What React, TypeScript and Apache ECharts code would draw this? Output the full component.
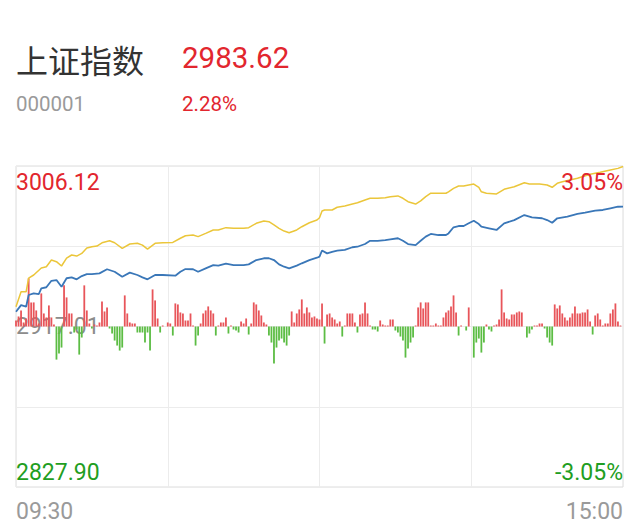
import React, { useEffect, useRef } from "react";
import * as echarts from "echarts";

// ---- header values
const indexName = "上证指数";
const indexCode = "000001";
const lastPrice = "2983.62";
const lastChange = "2.28%";

// ---- axis ranges and tick labels
const priceMax = 3006.12;
const priceMin = 2827.9;
const priceLabels = ["3006.12", "2917.01", "2827.90"];
const pctLabels = ["3.05%", "-3.05%"];
const timeLabels = ["09:30", "15:00"];
const totalMinutes = 240;

// ---- index line (blue): [minute, price]
const indexLine: [number, number][] = [
  [0, 2925.2], [2, 2928.9], [4, 2928.0], [5, 2934.5], [7, 2935.4], [9, 2935.0], [10, 2938.2], [12, 2938.8],
  [14, 2942.4], [16, 2942.8], [18, 2939.1], [20, 2943.8], [22, 2944.3], [24, 2943.2], [26, 2945.0], [28, 2946.1],
  [30, 2946.1], [33, 2946.5], [36, 2948.8], [39, 2947.4], [42, 2944.6], [45, 2946.9], [48, 2945.6], [50, 2944.3],
  [52, 2943.2], [55, 2945.6], [58, 2945.6], [63, 2945.2], [65, 2947.4], [67, 2948.9], [70, 2948.8], [72, 2947.4],
  [75, 2949.3], [78, 2951.1], [80, 2950.8], [83, 2951.9], [86, 2951.1], [90, 2951.1], [92, 2951.5], [95, 2953.9],
  [98, 2954.9], [100, 2954.9], [102, 2953.9], [104, 2951.5], [106, 2950.2], [108, 2949.3], [111, 2950.8], [113, 2952.1],
  [116, 2953.9], [119, 2955.2], [120, 2955.8], [121, 2959.2], [123, 2957.6], [125, 2958.5], [127, 2959.1], [130, 2959.5],
  [133, 2961.0], [135, 2961.3], [138, 2962.8], [140, 2964.6], [143, 2964.6], [146, 2965.0], [148, 2965.4], [151, 2966.0],
  [153, 2964.6], [155, 2962.8], [158, 2962.2], [160, 2964.6], [162, 2966.9], [164, 2968.4], [167, 2967.8], [170, 2967.8],
  [171, 2968.7], [173, 2972.1], [175, 2972.8], [177, 2972.8], [179, 2974.3], [181, 2975.7], [183, 2973.9], [184, 2972.4],
  [187, 2971.5], [190, 2970.6], [193, 2974.3], [197, 2976.1], [201, 2978.9], [204, 2977.6], [208, 2977.1], [210, 2976.1],
  [212, 2974.6], [214, 2977.1], [218, 2978.0], [222, 2979.5], [225, 2980.2], [229, 2981.3], [232, 2981.7], [235, 2982.6],
  [238, 2983.5], [240, 2983.62],
];

// ---- second line (yellow): [minute, price]
const avgLine: [number, number][] = [
  [0, 2928.0], [2, 2936.3], [4, 2936.3], [5, 2943.9], [7, 2945.6], [10, 2949.5], [12, 2950.2], [14, 2953.9],
  [16, 2953.0], [18, 2950.6], [20, 2955.0], [22, 2956.7], [24, 2956.1], [26, 2957.6], [28, 2960.6], [30, 2961.3],
  [32, 2961.7], [34, 2963.5], [37, 2964.6], [39, 2963.5], [42, 2960.4], [45, 2962.8], [48, 2963.2], [50, 2962.2],
  [52, 2960.0], [55, 2963.2], [58, 2963.5], [62, 2963.7], [65, 2966.0], [67, 2967.4], [70, 2967.8], [72, 2966.9],
  [75, 2968.7], [78, 2970.6], [80, 2970.6], [83, 2971.9], [86, 2971.5], [90, 2971.5], [92, 2971.9], [95, 2974.3],
  [98, 2975.6], [100, 2975.2], [102, 2973.4], [104, 2971.5], [106, 2970.0], [108, 2969.1], [111, 2970.6], [113, 2972.4],
  [116, 2974.6], [119, 2976.1], [120, 2977.4], [121, 2981.1], [122, 2981.7], [125, 2981.7], [127, 2983.2], [130, 2983.9],
  [133, 2985.0], [135, 2985.7], [138, 2987.2], [140, 2988.2], [143, 2988.2], [146, 2988.5], [148, 2989.1], [151, 2989.5],
  [153, 2988.2], [155, 2986.3], [158, 2985.0], [160, 2986.8], [162, 2989.1], [164, 2991.0], [167, 2991.0], [170, 2991.0],
  [171, 2991.8], [173, 2993.7], [175, 2995.0], [177, 2995.0], [179, 2995.6], [181, 2996.1], [183, 2994.3], [184, 2991.8],
  [186, 2991.0], [190, 2990.6], [193, 2993.2], [197, 2994.6], [201, 2996.8], [203, 2996.1], [207, 2996.1], [210, 2995.6],
  [212, 2994.3], [214, 2996.5], [216, 2997.4], [222, 2999.3], [227, 3001.5], [231, 3002.6], [235, 3003.9], [238, 3004.8],
  [240, 3005.8],
];

// ---- per-minute red/green bars (arbitrary units), minute 0..240
const diffBars: number[] = [
  6, 10, 16, 4, 8, 48, 24, 24, 16, 3,
  33, 13, 9, 21, 9, 2, -33, -27, -21, 41,
  29, 13, 13, -6, -3, -28, -11, 41, 16, 3,
  -2, 2, 1, 4, 25, 15, 19, -2, -7, -14,
  -19, -24, -21, 31, 13, 4, 3, 3, -6, -6,
  -6, -16, -6, -24, 37, 26, 8, -6, 1, 0,
  4, 3, -9, 23, 22, 14, 13, 6, 6, 13,
  1, -19, -9, 3, 13, 16, 20, 16, 13, -9,
  1, 4, 4, 9, -7, 1, -3, -4, -6, 5,
  3, 8, -8, 3, 24, 22, 16, 11, 4, 2,
  -9, -16, -37, -21, -14, -12, -16, -19, -9, 15,
  4, 13, 17, 27, 13, 19, 14, 9, 10, 8,
  7, 23, -17, 12, 13, 9, 7, 3, 5, -10,
  1, 13, 13, 13, 4, -6, 12, 13, 24, 13,
  1, -3, -3, -5, 6, 2, 1, 1, 7, 7,
  -4, -6, -10, -14, -31, -22, -16, -11, 1, 19,
  24, 18, 24, 24, 1, 1, 3, 1, 1, 9,
  14, 16, 20, 31, 14, -9, 1, 0, -4, 19,
  0, -31, -16, -12, -26, -16, 2, -3, -5, 1,
  2, 7, 37, 14, 8, 7, 12, 12, 14, 15,
  14, 0, -11, -7, -3, 1, 1, 3, 3, -2,
  -11, -16, -19, 22, 18, 21, 13, 9, 6, 9,
  13, 20, 13, 13, 14, 14, 17, 5, -8, 11,
  13, 7, 1, 3, 3, 13, 17, 23, 5, 1,
  0,
];

const RED = "#e2262e";
const GREEN = "#1f9e22";
const BAR_RED = "#e8555a";
const BAR_GREEN = "#5cbd44";
const NUM_FONT = "Roboto, 'Noto Sans', sans-serif";

export default function App() {
  const ref = useRef<HTMLDivElement>(null);

  useEffect(() => {
    const chart = echarts.init(ref.current!, null, { renderer: "svg" });
    const gl = 16, gr = 623, gt = 166, gb = 487;
    const mid = (gt + gb) / 2;

    const txt = (text: string, x: number, y: number, fill: string, size: number, align: string, family = NUM_FONT, z = 100) => ({
      type: "text",
      x,
      y,
      z,
      silent: true,
      style: { text, fill, fontSize: size, fontFamily: family, align, verticalAlign: "middle" },
    });

    chart.setOption({
      animation: false,
      backgroundColor: "#ffffff",
      grid: {
        left: gl,
        top: gt,
        right: 640 - gr,
        bottom: 526 - gb,
        show: true,
        borderColor: "#dcdcdc",
        borderWidth: 1,
      },
      xAxis: {
        type: "value",
        min: 0,
        max: totalMinutes,
        interval: 60,
        axisLine: { show: false },
        axisTick: { show: false },
        axisLabel: { show: false },
        splitLine: { show: true, lineStyle: { color: "#ececec", width: 1 } },
      },
      yAxis: [
        {
          type: "value",
          min: priceMin,
          max: priceMax,
          axisLine: { show: false },
          axisTick: { show: false },
          axisLabel: { show: false },
          splitLine: { show: false },
        },
        {
          type: "value",
          min: -160,
          max: 160,
          interval: 80,
          axisLine: { show: false },
          axisTick: { show: false },
          axisLabel: { show: false },
          splitLine: { show: true, lineStyle: { color: "#ececec", width: 1 } },
        },
      ],
      series: [
        {
          type: "bar",
          yAxisIndex: 1,
          barWidth: 1.8,
          z: 2,
          data: diffBars.map((v, i) => [i, v]),
          itemStyle: {
            color: (p: any) => (p.value[1] >= 0 ? BAR_RED : BAR_GREEN),
          },
        },
        {
          type: "line",
          yAxisIndex: 0,
          z: 3,
          showSymbol: false,
          data: avgLine,
          lineStyle: { color: "#ebc63a", width: 1.5 },
        },
        {
          type: "line",
          yAxisIndex: 0,
          z: 4,
          showSymbol: false,
          data: indexLine,
          lineStyle: { color: "#3a77b8", width: 1.8 },
        },
      ],
      graphic: [
        txt(indexName, 16, 59, "#333333", 32, "left", "'Noto Sans CJK SC', sans-serif"),
        txt(lastPrice, 182, 58, RED, 29.5, "left"),
        txt(indexCode, 16, 104, "#9a9a9a", 20.5, "left"),
        txt(lastChange, 182, 104, RED, 20.5, "left"),
        txt(priceLabels[0], gl, 182, RED, 23, "left"),
        txt(pctLabels[0], gr, 182, RED, 23, "right"),
        txt(priceLabels[1], gl, mid, "#8c8c8c", 23, "left", NUM_FONT, 1),
        txt(priceLabels[2], gl, 472, GREEN, 23, "left"),
        txt(pctLabels[1], gr, 472, GREEN, 23, "right"),
        txt(timeLabels[0], gl, 511, "#9a9a9a", 23, "left"),
        txt(timeLabels[1], gr, 511, "#9a9a9a", 23, "right"),
      ],
    });

    return () => chart.dispose();
  }, []);

  return (
    <div
      ref={ref}
      style={{ position: "fixed", left: 0, top: 0, width: 640, height: 526, background: "#ffffff" }}
    />
  );
}
